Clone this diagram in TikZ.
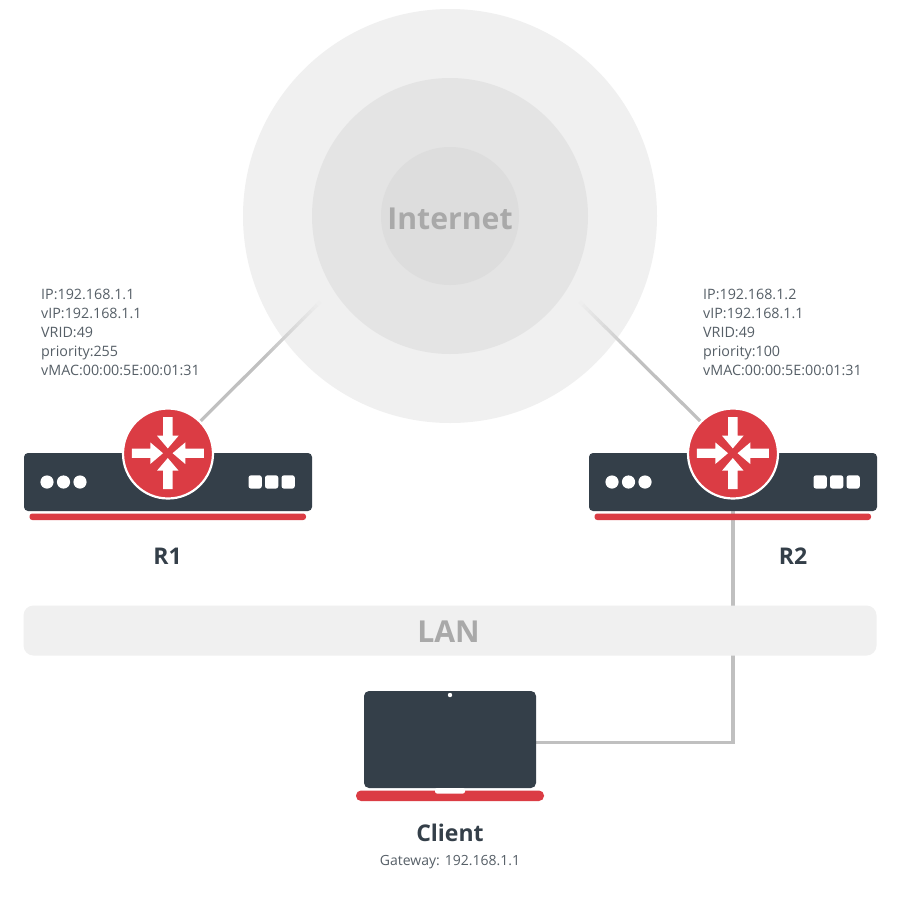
\documentclass[tikz,border=0pt]{standalone}
\usepackage{fontspec}
\usetikzlibrary{calc}
\setmainfont{Open Sans}
\definecolor{dark}{HTML}{343F49}
\definecolor{redc}{HTML}{DB3C44}
\definecolor{c1}{HTML}{F0F0F0}
\definecolor{c2}{HTML}{E4E4E4}
\definecolor{c3}{HTML}{DDDDDD}
\definecolor{wire}{HTML}{C0C0C0}
\definecolor{tx}{HTML}{565F67}
\definecolor{gtx}{HTML}{A9A9A9}
\tikzset{
  conn/.style={draw=wire,line width=3.2pt},
  info/.style={anchor=north west,align=left,text=tx,font=\fontsize{14.3}{19}\selectfont,inner sep=0pt},
  ttl/.style={text=dark,font=\fontsize{23}{26}\selectfont\bfseries,inner sep=0pt},
  bigl/.style={text=gtx,font=\fontsize{30.2}{36}\selectfont\bfseries,inner sep=0pt}
}
\newcommand{\routerpic}[4]{%
 \begin{scope}[shift={(#1,0)}]
  \fill[dark,rounded corners=4pt] (24,453) rectangle (312,511);
  \fill[redc,rounded corners=2.8pt] (29.5,513.5) rectangle (306,520);
  \foreach \cx in {47,63.5,80} \fill[white] (\cx,482) circle (6.6);
  \foreach \cx in {248.5,265,281.5} \fill[white,rounded corners=2.5pt] (\cx,475.3) rectangle ++(13.3,13.3);
  \node[circle,fill=redc,draw=white,line width=2.2pt,minimum size=90pt,inner sep=0pt] (#2) at (168,453.5) {};
  \begin{scope}[shift={(167.8,453.2)}]
   \foreach \a in {0,90,180,270}
     \fill[white,rotate=\a] (-4.7,-36) -- (4.7,-36) -- (4.7,-17.5) -- (10.8,-17.5) -- (0,-4.8) -- (-10.8,-17.5) -- (-4.7,-17.5) -- cycle;
  \end{scope}
  \node[ttl] (#3) at (#4,556) {#3};
 \end{scope}}
\newcommand{\fadewire}[2]{%
  \draw[conn] (#1) -- ($(#1)!0.62!(#2)$);
  \foreach \i in {0,...,19}{%
    \pgfmathsetmacro{\ta}{0.62+0.019*\i}
    \pgfmathsetmacro{\tb}{0.62+0.019*(\i+1)+0.001}
    \pgfmathsetmacro{\mixv}{100-5*\i}
    \draw[draw=wire!\mixv!c1,line width=3.2pt] ($(#1)!\ta!(#2)$) -- ($(#1)!\tb!(#2)$);
  }}
\begin{document}
\begin{tikzpicture}[x=1pt,y=-1pt]
\useasboundingbox (0,0) rectangle (900,900);
\fill[white] (0,0) rectangle (900,900);
\node[circle,fill=c1,minimum size=414pt,inner sep=0pt] (outer) at (450,216) {};
\node[circle,fill=c2,minimum size=276pt,inner sep=0pt] (mid) at (450,216) {};
\node[circle,fill=c3,minimum size=138pt,inner sep=0pt] (inet) at (450,216) {};
\node[bigl] (inettxt) at (450,219) {Internet};
\coordinate (la) at (320,302);
\coordinate (ra) at (580,302);
\coordinate (r1c) at (168,453.5);
\coordinate (r2c) at (733,453.5);
\coordinate (lapc) at (450,742.5);
\fadewire{r1c}{la}
\fadewire{r2c}{ra}
\draw[conn] (r2c) |- (lapc);
\routerpic{0}{r1}{R1}{167.5}
\routerpic{565}{r2}{R2}{228}
\node[rounded corners=10pt,fill=c1,minimum width=853pt,minimum height=50pt,inner sep=0pt] (lan) at (450,630.5) {};
\node[bigl] (lantxt) at (448.5,632) {LAN};
\node[info] (info1) at (41,289) {IP:192.168.1.1\\vIP:192.168.1.1\\VRID:49\\priority:255\\vMAC:00:00:5E:00:01:31};
\node[info] (info2) at (703,289) {IP:192.168.1.2\\vIP:192.168.1.1\\VRID:49\\priority:100\\vMAC:00:00:5E:00:01:31};
\node[fill=dark,rounded corners=5pt,minimum width=172pt,minimum height=97pt,inner sep=0pt] (laptop) at (450,739.5) {};
\fill[white] (450,695) circle (2.2);
\fill[redc,rounded corners=5pt] (356,790.5) rectangle (544,801);
\fill[white,rounded corners=2pt] (435,788) rectangle (465,793.5);
\node[ttl] (client) at (450,833) {Client};
\node[text=tx,font=\fontsize{14}{15}\selectfont,inner sep=0pt] (gw) at (450,862) {Gateway: 192.168.1.1};
\end{tikzpicture}
\end{document}
